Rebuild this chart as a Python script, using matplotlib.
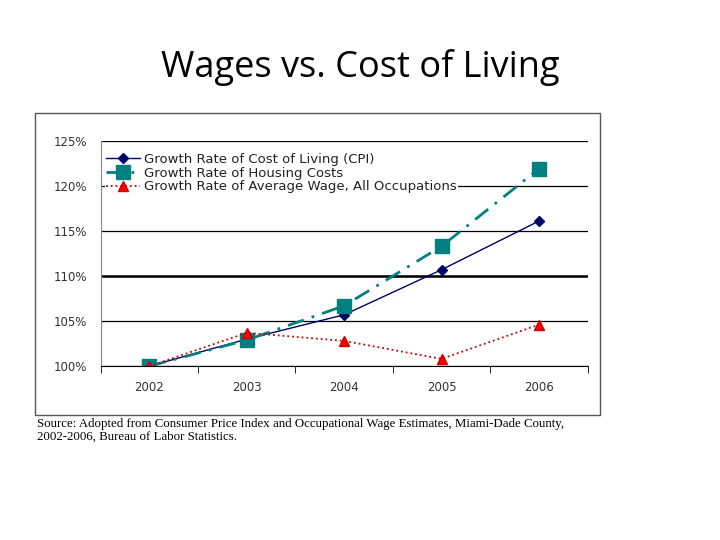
import matplotlib.pyplot as plt
from matplotlib.patches import Rectangle

years = ["2002", "2003", "2004", "2005", "2006"]
cpi = [100.0, 103.0, 105.7, 110.7, 116.1]
housing = [100.0, 102.9, 106.7, 113.3, 121.9]
wage = [100.0, 103.7, 102.8, 100.8, 104.6]

fig = plt.figure(figsize=(7.2, 5.4), dpi=100)
fig.text(0.5, 1 - 68 / 540, "Wages vs. Cost of Living", ha="center", va="center",
         fontsize=26, family="Open Sans")

# border of the pasted chart image
fig.patches.append(Rectangle((35 / 720, 1 - 415 / 540), 565 / 720, 302 / 540,
                             transform=fig.transFigure, fill=False,
                             edgecolor="#555555", linewidth=1))

ax = fig.add_axes([0.14, 0.322, 0.676, 0.417])
x = range(len(years))
ax.plot(x, cpi, color="#000066", marker="D", markersize=5, linewidth=1,
        label="Growth Rate of Cost of Living (CPI)")
ax.plot(x, housing, color="#008080", marker="s", markersize=10, linewidth=2,
        linestyle=(0, (6, 3, 1, 3)), label="Growth Rate of Housing Costs")
ax.plot(x, wage, color="#cc0000", marker="^", markersize=7, markerfacecolor="red",
        linewidth=1.3, linestyle=":", label="Growth Rate of Average Wage, All Occupations")

ax.set_xlim(-0.5, 4.5)
ax.set_ylim(100, 125)
ax.set_yticks([100, 105, 110, 115, 120, 125])
ax.set_yticklabels([f"{v}%" for v in range(100, 126, 5)], fontsize=8.5, color="#333333")
ax.set_xticks(list(x))
ax.set_xticklabels(years, fontsize=8.5, color="#333333")
ax.set_xticks([i + 0.5 for i in range(-1, 5)], minor=True)
ax.tick_params(axis="x", which="major", length=0, pad=11)
ax.tick_params(axis="x", which="minor", length=5, direction="out")
ax.tick_params(axis="y", length=0, pad=10)
ax.grid(axis="y", color="black", linewidth=0.9)
ax.axhline(110, color="black", linewidth=1.8, zorder=0.5)
for s in ["top", "right"]:
    ax.spines[s].set_visible(False)
ax.spines["left"].set_color("#888888")
ax.set_axisbelow(True)
leg = ax.legend(loc="upper left", fontsize=9.5, frameon=True, framealpha=1,
                edgecolor="white", borderpad=0.1, handlelength=2.6,
                labelspacing=0.05, handletextpad=0.3, borderaxespad=0.3,
                bbox_to_anchor=(0.0, 0.97))
for t in leg.get_texts():
    t.set_color("#222222")
leg.get_frame().set_linewidth(0)

fig.text(37 / 720, 1 - 418 / 540,
         "Source: Adopted from Consumer Price Index and Occupational Wage Estimates, Miami-Dade County,\n2002-2006, Bureau of Labor Statistics.",
         fontsize=9.3, family="Liberation Serif", va="top", linespacing=1.05)

fig.savefig("out.png", dpi=100)
